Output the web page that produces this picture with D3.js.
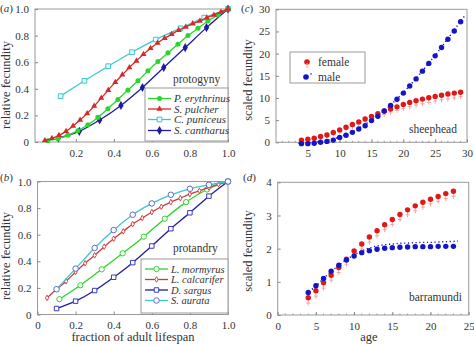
<!DOCTYPE html>
<html>
<head>
<meta charset="utf-8">
<script src="https://cdn.jsdelivr.net/npm/d3@7"></script>
<style>
  body { margin: 0; background: #fff; }
  svg { display: block; }
  text { font-family: "Liberation Serif", "DejaVu Serif", serif; fill: #333; }
</style>
</head>
<body>
<svg id="fig" width="474" height="345"></svg>
<script>
// ---- (a) protogyny: relative fecundity vs fraction of adult lifespan ----
const erythrinusX = [1,2,3,4,5,6,7,8,9,10,11,12,13,14,15,16,17,18,19].map(i => i / 19);
const erythrinusY = [0.01,0.025,0.05,0.085,0.13,0.185,0.25,0.32,0.39,0.46,0.535,0.605,0.67,0.735,0.80,0.855,0.91,0.955,1.0];
const pulcherX = [1,2,3,4,5,6,7,8,9,10,11,12,13,14,15,16,17,18,19,20,21,22,23,24,25,26,27].map(i => i / 27);
const pulcherY = [0.012,0.028,0.05,0.08,0.12,0.165,0.215,0.27,0.33,0.39,0.45,0.505,0.56,0.61,0.66,0.705,0.745,0.78,0.81,0.84,0.865,0.89,0.91,0.935,0.955,0.978,1.0];
const puniceusX = [0.12,0.245,0.37,0.495,0.62,0.75,0.875,1.0];
const puniceusY = [0.345,0.46,0.57,0.675,0.77,0.855,0.935,1.0];
const cantharusX = [0.108,0.218,0.325,0.437,0.55,0.662,0.775,0.887,1.0];
const cantharusY = [0.03,0.08,0.165,0.275,0.41,0.56,0.71,0.86,1.0];

// ---- (b) protandry ----
const mormyrusX = [0.115,0.225,0.337,0.447,0.558,0.668,0.78,0.89,1.0];
const mormyrusY = [0.115,0.22,0.34,0.46,0.585,0.72,0.845,0.94,1.0];
const calcariferX = [0.05,0.1,0.15,0.2,0.25,0.3,0.35,0.4,0.45,0.5,0.55,0.6,0.65,0.7,0.75,0.8,0.85,0.9,0.95,1.0];
const calcariferY = [0.125,0.19,0.25,0.32,0.385,0.445,0.51,0.57,0.625,0.68,0.725,0.77,0.81,0.845,0.875,0.905,0.93,0.955,0.98,1.0];
const sargusX = [0.1,0.2,0.3,0.4,0.5,0.6,0.7,0.8,0.9,1.0];
const sargusY = [0.045,0.10,0.18,0.28,0.39,0.515,0.645,0.765,0.89,1.0];
const aurataX = [0.1,0.2,0.3,0.4,0.5,0.6,0.7,0.8,0.9,1.0];
const aurataY = [0.19,0.345,0.5,0.635,0.75,0.835,0.9,0.945,0.975,1.0];

// ---- (c) sheephead: scaled fecundity vs age ----
const sheepAge = [4,5,6,7,8,9,10,11,12,13,14,15,16,17,18,19,20,21,22,23,24,25,26,27,28,29];
const sheepFemale = [0.5,0.7,0.9,1.3,1.65,2.2,2.8,3.4,4.0,4.6,5.25,5.85,6.45,7.05,7.5,8.0,8.55,9.0,9.4,9.75,10.05,10.35,10.6,10.9,11.1,11.3];
const sheepFemaleFit = [0.3,0.5,0.7,1.0,1.4,1.9,2.4,3.0,3.6,4.2,4.8,5.3,5.8,6.3,6.8,7.2,7.6,8.0,8.4,8.7,9.0,9.3,9.6,9.8,10.0,10.3];
const sheepMale = [-0.3,-0.3,-0.2,0.0,0.2,0.5,1.1,1.6,2.25,3.0,3.75,4.9,5.85,7.05,8.3,9.7,11.1,12.7,14.3,16.05,17.8,19.5,21.4,23.25,25.1,27.2];
const sheepMaleFitAge = [3.5,5,6,7,8,9,10,11,12,13,14,15,16,17,18,19,20,21,22,23,24,25,26,27,28,29,29.6];
const sheepMaleFit = [-0.2,-0.1,0.0,0.2,0.4,0.8,1.2,1.8,2.5,3.2,4.1,5.0,6.0,7.1,8.4,9.8,11.2,12.8,14.4,16.1,17.9,19.6,21.5,23.4,25.3,27.4,28.4];

// ---- (d) barramundi ----
const barraAge = [4,5,6,7,8,9,10,11,12,13,14,15,16,17,18,19,20,21,22,23];
const barraFemale = [0.52,0.73,0.97,1.2,1.43,1.68,1.93,2.14,2.35,2.54,2.72,2.88,3.03,3.17,3.29,3.40,3.49,3.57,3.66,3.73];
const barraFemaleFit = [0.36,0.57,0.81,1.05,1.28,1.53,1.78,1.99,2.2,2.39,2.57,2.73,2.88,3.02,3.14,3.25,3.35,3.43,3.51,3.58];
const barraMale = [0.68,0.88,1.1,1.32,1.5,1.66,1.78,1.88,1.94,1.98,2.01,2.03,2.04,2.05,2.06,2.06,2.06,2.07,2.07,2.07];
const barraMaleFitAge = [3.7,5,6,7,8,9,10,11,12,13,14,15,16,17,18,19,20,21,22,23,23.6];
const barraMaleFit = [0.64,0.87,1.1,1.31,1.5,1.67,1.81,1.93,2.02,2.08,2.12,2.14,2.16,2.17,2.18,2.19,2.19,2.2,2.21,2.22,2.23];

// tick labels
const fracTicksA = [0, 0.2, 0.4, 0.6, 0.8, 1.0];
const fracLabelsA = ["0", "0.2", "0.4", "0.6", "0.8", "1.0"];
const sheepTicks = [0, 5, 10, 15, 20, 25, 30];
const barraXTicks = [0, 5, 10, 15, 20, 25];
const barraYTicks = [0, 1, 2, 3, 4];

const COL = {
  green: "#2ad62a", red: "#d42a2a", cyan: "#3cc8d0", navy: "#1c1ca8",
  dotRed: "#e01818", dotBlue: "#1414c8", pink: "#f2a3a3", frame: "#9a9a9a"
};

const svg = d3.select("#fig");

function frame(g, x, y) {
  const [x0, x1] = x.range(), [y0, y1] = y.range();
  g.append("rect").attr("x", x0).attr("y", y1).attr("width", x1 - x0).attr("height", y0 - y1)
    .attr("fill", "none").attr("stroke", COL.frame).attr("stroke-width", 1);
}

function yAxis(g, y, ticks, fmt) {
  const ax = d3.axisLeft(y).tickValues(ticks).tickSize(-3).tickPadding(6).tickFormat(fmt);
  const sel = g.append("g").attr("transform", `translate(${y.__x},0)`).call(ax);
  sel.select(".domain").remove();
  sel.selectAll("line").attr("stroke", "#888");
  sel.selectAll("text").style("font-size", "11px").attr("fill", "#333");
}
function xAxis(g, x, ticks, fmt, y0) {
  const ax = d3.axisBottom(x).tickValues(ticks).tickSize(-3).tickPadding(7).tickFormat(fmt);
  const sel = g.append("g").attr("transform", `translate(0,${y0})`).call(ax);
  sel.select(".domain").remove();
  sel.selectAll("line").attr("stroke", "#888");
  sel.selectAll("text").style("font-size", "11px").attr("fill", "#333");
}
function minorTicksX(g, x, vals, y0) {
  g.append("g").selectAll("line").data(vals).join("line")
    .attr("x1", d => x(d)).attr("x2", d => x(d)).attr("y1", y0).attr("y2", y0 - 1.5)
    .attr("stroke", "#999");
}

function ylabel(text, cx, cy) {
  svg.append("text").attr("transform", `translate(${cx},${cy}) rotate(-90)`)
    .attr("text-anchor", "middle").style("font-size", "12.5px").text(text);
}
function panelTag(tag, x, y) {
  svg.append("text").attr("x", x).attr("y", y).style("font-size", "11px")
    .html(`(<tspan font-style="italic">${tag}</tspan>)`);
}

// marker helpers
const sym = (type, size) => d3.symbol().type(type).size(size)();
function drawSeries(g, x, y, xs, ys, opt) {
  const pts = xs.map((v, i) => [v, ys[i]]);
  g.append("path").datum(pts)
    .attr("d", d3.line().x(d => x(d[0])).y(d => y(d[1])).curve(d3.curveMonotoneX))
    .attr("fill", "none").attr("stroke", opt.color).attr("stroke-width", 1.3);
  g.append("g").selectAll("path").data(pts).join("path")
    .attr("transform", d => `translate(${x(d[0])},${y(d[1])})`)
    .attr("d", sym(opt.shape, opt.size))
    .attr("fill", opt.fill).attr("stroke", opt.stroke).attr("stroke-width", opt.sw || 1);
}
function legendRow(g, lx, ly, opt, label, fs) {
  g.append("line").attr("x1", lx).attr("x2", lx + 23).attr("y1", ly).attr("y2", ly)
    .attr("stroke", opt.color).attr("stroke-width", 1.3);
  g.append("path").attr("transform", `translate(${lx + 11.5},${ly})`)
    .attr("d", sym(opt.shape, opt.size)).attr("fill", opt.fill)
    .attr("stroke", opt.stroke).attr("stroke-width", opt.sw || 1);
  g.append("text").attr("x", lx + 26).attr("y", ly + 3.6).style("font-size", (fs || 11) + "px")
    .style("font-style", "italic").attr("fill", "#222").text(label);
}

// ================= panel (a) =================
{
  const g = svg.append("g");
  const x = d3.scaleLinear().domain([-0.015, 1]).range([35, 228]);
  const y = d3.scaleLinear().domain([0, 1]).range([142, 9]);
  y.__x = 35;
  frame(g, x, y);
  yAxis(g, y, [0, 0.2, 0.4, 0.6, 0.8, 1.0], d => d === 0 ? "0" : d.toFixed(1));
  xAxis(g, x, fracTicksA.slice(1), (d, i) => fracLabelsA[i + 1], 142);

  const sE = { color: COL.green, shape: d3.symbolCircle, size: 20, fill: COL.green, stroke: "none" };
  const sP = { color: COL.red, shape: d3.symbolTriangle, size: 16, fill: COL.red, stroke: "none" };
  const sC = { color: COL.cyan, shape: d3.symbolSquare, size: 22, fill: "#e8fbfb", stroke: COL.cyan, sw: 1 };
  const sS = { color: COL.navy, shape: d3.symbolDiamond, size: 24, fill: COL.navy, stroke: "none" };

  drawSeries(g, x, y, puniceusX, puniceusY, sC);
  drawSeries(g, x, y, cantharusX, cantharusY, sS);
  drawSeries(g, x, y, erythrinusX, erythrinusY, sE);
  drawSeries(g, x, y, pulcherX, pulcherY, sP);

  g.append("text").attr("x", 173).attr("y", 83).style("font-size", "11.5px").text("protogyny");
  g.append("rect").attr("x", 145).attr("y", 88).attr("width", 83).attr("height", 53)
    .attr("fill", "#fff").attr("stroke", COL.frame);
  legendRow(g, 148, 98.5, sE, "P. erythrinus");
  legendRow(g, 148, 109, sP, "S. pulcher");
  legendRow(g, 148, 119.5, sC, "C. puniceus");
  legendRow(g, 148, 130.5, sS, "S. cantharus");
}
panelTag("a", 0, 12);
ylabel("relative fecundity", 10, 85);

// ================= panel (b) =================
{
  const g = svg.append("g");
  const x = d3.scaleLinear().domain([0, 1]).range([37.5, 228]);
  const y = d3.scaleLinear().domain([0, 1]).range([314.5, 181.5]);
  y.__x = 37.5;
  frame(g, x, y);
  yAxis(g, y, [0, 0.2, 0.4, 0.6, 0.8, 1.0], d => d === 0 ? "0" : d.toFixed(1));
  xAxis(g, x, fracTicksA, (d, i) => fracLabelsA[i], 314.5);

  const sM = { color: COL.green, shape: d3.symbolCircle, size: 22, fill: "#fff", stroke: COL.green, sw: 1 };
  const sL = { color: "#cc3a3a", shape: d3.symbolDiamond, size: 9, fill: "#fff", stroke: "#cc3a3a", sw: 0.9 };
  const sD = { color: COL.navy, shape: d3.symbolSquare, size: 20, fill: "#fff", stroke: "#3a3ac0", sw: 1 };
  const sA = { color: COL.cyan, shape: d3.symbolCircle, size: 24, fill: "#fff", stroke: "#5a6ad8", sw: 1 };

  drawSeries(g, x, y, sargusX, sargusY, sD);
  drawSeries(g, x, y, mormyrusX, mormyrusY, sM);
  drawSeries(g, x, y, calcariferX, calcariferY, sL);
  drawSeries(g, x, y, aurataX, aurataY, sA);

  g.append("text").attr("x", 173).attr("y", 252).style("font-size", "11.5px").text("protandry");
  g.append("rect").attr("x", 141).attr("y", 259).attr("width", 87).attr("height", 54)
    .attr("fill", "#fff").attr("stroke", COL.frame);
  legendRow(g, 145, 269, sM, "L. mormyrus", 10.5);
  legendRow(g, 145, 279.5, sL, "L. calcarifer", 10.5);
  legendRow(g, 145, 290, sD, "D. sargus", 10.5);
  legendRow(g, 145, 300.5, sA, "S. aurata", 10.5);

  svg.append("text").attr("x", 133).attr("y", 341).attr("text-anchor", "middle")
    .style("font-size", "12.5px").text("fraction of adult lifespan");
}
panelTag("b", 0, 181);
ylabel("relative fecundity", 10, 256);

// female/male dot panels
function pinkMarks(g, x, y, xs, ys) {
  const d = xs.map((v, i) => [v, ys[i]]);
  const m = g.append("g").attr("stroke", COL.pink).attr("stroke-width", 1);
  m.selectAll("line.v").data(d).join("line").attr("class", "v")
    .attr("x1", p => x(p[0])).attr("x2", p => x(p[0]))
    .attr("y1", p => y(p[1]) - 2.5).attr("y2", p => y(p[1]) + 2.5);
  m.selectAll("line.h").data(d).join("line").attr("class", "h")
    .attr("x1", p => x(p[0]) - 2).attr("x2", p => x(p[0]) + 2)
    .attr("y1", p => y(p[1])).attr("y2", p => y(p[1]));
}
function dotted(g, x, y, xs, ys) {
  g.append("path").datum(xs.map((v, i) => [v, ys[i]]))
    .attr("d", d3.line().x(d => x(d[0])).y(d => y(d[1])).curve(d3.curveMonotoneX))
    .attr("fill", "none").attr("stroke", COL.dotBlue).attr("stroke-width", 1.4)
    .attr("stroke-dasharray", "1.2,2.6");
}
function dots(g, x, y, xs, ys, color) {
  g.append("g").selectAll("circle").data(xs.map((v, i) => [v, ys[i]])).join("circle")
    .attr("cx", d => x(d[0])).attr("cy", d => y(d[1])).attr("r", 2.7).attr("fill", color);
}

// ================= panel (c) =================
{
  const g = svg.append("g");
  const x = d3.scaleLinear().domain([0, 30]).range([276, 467]);
  const y = d3.scaleLinear().domain([0, 30]).range([142.3, 9.3]);
  y.__x = 276;
  frame(g, x, y);
  minorTicksX(g, x, d3.range(1, 30), 142.3);
  yAxis(g, y, sheepTicks, d => d);
  xAxis(g, x, sheepTicks.slice(1), d => d, 142.3);

  pinkMarks(g, x, y, sheepAge, sheepFemaleFit);
  dotted(g, x, y, sheepMaleFitAge, sheepMaleFit);
  dots(g, x, y, sheepAge, sheepFemale, COL.dotRed);
  dots(g, x, y, sheepAge, sheepMale, COL.dotBlue);

  g.append("rect").attr("x", 290).attr("y", 52).attr("width", 75).attr("height", 31)
    .attr("fill", "#fff").attr("stroke", COL.frame);
  g.append("circle").attr("cx", 307).attr("cy", 62).attr("r", 2.8).attr("fill", COL.dotRed);
  g.append("line").attr("x1", 307).attr("x2", 307).attr("y1", 63).attr("y2", 68).attr("stroke", COL.pink);
  g.append("text").attr("x", 318).attr("y", 66).style("font-size", "11.5px").text("female");
  g.append("circle").attr("cx", 306).attr("cy", 77).attr("r", 2.8).attr("fill", COL.dotBlue);
  g.append("circle").attr("cx", 311).attr("cy", 74).attr("r", 0.8).attr("fill", COL.dotBlue);
  g.append("text").attr("x", 318).attr("y", 80.5).style("font-size", "11.5px").text("male");

  g.append("text").attr("x", 409).attr("y", 133).style("font-size", "11.5px").text("sheephead");
}
panelTag("c", 241, 12);
ylabel("scaled fecundity", 252, 80);

// ================= panel (d) =================
{
  const g = svg.append("g");
  const x = d3.scaleLinear().domain([0, 25]).range([277.7, 468.7]);
  const y = d3.scaleLinear().domain([0, 4]).range([315, 182.3]);
  y.__x = 277.7;
  frame(g, x, y);
  minorTicksX(g, x, d3.range(1, 25), 315);
  yAxis(g, y, barraYTicks, d => d);
  xAxis(g, x, barraXTicks, d => d, 315);

  pinkMarks(g, x, y, barraAge, barraFemaleFit);
  dotted(g, x, y, barraMaleFitAge, barraMaleFit);
  dots(g, x, y, barraAge, barraFemale, COL.dotRed);
  dots(g, x, y, barraAge, barraMale, COL.dotBlue);

  g.append("text").attr("x", 409).attr("y", 301).style("font-size", "11.5px").text("barramundi");
  svg.append("text").attr("x", 369).attr("y", 341).attr("text-anchor", "middle")
    .style("font-size", "12.5px").text("age");
}
panelTag("d", 243, 181);
ylabel("scaled fecundity", 252, 251);
</script>
</body>
</html>
